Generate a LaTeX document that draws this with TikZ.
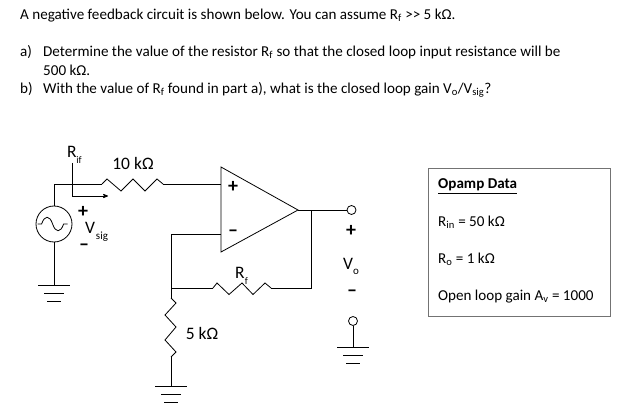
\documentclass[tikz,border=0pt]{standalone}
\usepackage{fontspec}
\setmainfont{Carlito}
\usetikzlibrary{arrows}
\tikzset{
	txt/.style={anchor=base west,inner sep=0pt,font=\fontsize{15.1}{17}\selectfont},
	lbl/.style={inner sep=0pt,font=\fontsize{17.5}{19}\selectfont},
	sign/.style={inner sep=0pt,font=\fontsize{20}{20}\selectfont\bfseries},
	wire/.style={line width=0.8pt},
	term/.style={shape=circle,draw,line width=0.8pt,inner sep=0pt,minimum size=9pt}
}
\begin{document}
\begin{tikzpicture}[x=1pt,y=-1pt,>=stealth']
	\useasboundingbox (0,0) rectangle (635,409);
	% question text
	\node (line1) [txt] at (20,19.5) {A negative feedback circuit is shown below. You can assume R\textsubscript{f} >{}> 5 kΩ.};
	\node (parta) [txt] at (20,56.5) {a)};
	\node (line2) [txt] at (43,56.5) {Determine the value of the resistor R\textsubscript{f} so that the closed loop input resistance will be};
	\node (line3) [txt] at (43,75.5) {500 kΩ.};
	\node (partb) [txt] at (20,93.5) {b)};
	\node (line4) [txt] at (43,93.5) {With the value of R\textsubscript{f} found in part a), what is the closed loop gain V\textsubscript{o}/V\textsubscript{sig}?};

	% opamp data box
	\node (databox) [shape=rectangle,draw=black!55,line width=0.8pt,minimum width=182pt,minimum height=148pt] at (519,242) {};
	\node (datahead) [txt,font=\fontsize{15.1}{17}\selectfont\bfseries] at (438,189) {\underline{Opamp Data}};
	\node (datarin) [txt] at (438,226) {R\textsubscript{in} = 50 kΩ};
	\node (dataro) [txt] at (438,263) {R\textsubscript{o} = 1 kΩ};
	\node (datagain) [txt] at (438,300) {Open loop gain A\textsubscript{v} = 1000};

	% circuit points
	\node (source) [shape=circle,draw,line width=0.8pt,inner sep=0pt,minimum size=36pt] at (54,224) {};
	\coordinate (topleft) at (54,184);
	\coordinate (rinstart) at (102,184);
	\coordinate (rinend) at (163,184);
	\coordinate (plusin) at (221,184);
	\coordinate (minusin) at (221,234);
	\coordinate (minusleft) at (171,234);
	\coordinate (fbnode) at (171,288);
	\coordinate (rfstart) at (213,288);
	\coordinate (rfend) at (271,288);
	\coordinate (fbright) at (311,288);
	\coordinate (outnode) at (311,210);
	\coordinate (rgstart) at (171,298);
	\coordinate (rgend) at (171,357);
	\coordinate (gndsig) at (54,285);
	\coordinate (gndfive) at (171,386);
	\coordinate (gndout) at (353,347);
	\coordinate (probetop) at (72,163);
	\coordinate (probecorner) at (72,196);
	\coordinate (probetip) at (108,196);
	\coordinate (ampa) at (221,167);
	\coordinate (ampb) at (221,252);
	\coordinate (ampc) at (298,210);
	\node (outplus) [term] at (351.5,210) {};
	\node (outminus) [term] at (353,321) {};

	% opamp and wires
	\draw[wire] (ampa) -- (ampb) -- (ampc) -- cycle;
	\draw[wire] (source.north) -- (topleft) -- (rinstart);
	\draw[wire] (rinstart) -- ++(5,-5) -- ++(14,12) -- ++(12,-12) -- ++(12,12) -- ++(12,-12) -- (rinend);
	\draw[wire] (rinend) -- (plusin);
	\draw[wire] (minusin) -- (minusleft) -- (fbnode) -- (rfstart);
	\draw[wire] (rfstart) -- ++(4,-5) -- ++(12,11.5) -- ++(13,-11.5) -- ++(11,11.5) -- ++(12,-11.5) -- (rfend);
	\draw[wire] (rfend) -- (fbright) -- (outnode);
	\draw[wire] (ampc) -- (outplus);
	\draw[wire] (fbnode) -- (rgstart);
	\draw[wire] (rgstart) -- ++(5,5) -- ++(-11,12) -- ++(11,12) -- ++(-11,13) -- ++(11,12) -- (rgend);
	\draw[wire] (rgend) -- (gndfive);
	\draw[wire] (source.south) -- (gndsig);
	\draw[wire] (outminus) -- (gndout);
	\draw[wire] (probetop) -- (probecorner);
	\path[->,wire] (probecorner) edge (probetip);

	% sine in the source
	\draw[wire] (source.west) ++(2,0) -- ++(4,0) .. controls +(3,-9) and +(-3,-9) .. ++(11,0) .. controls +(3,9) and +(-3,9) .. ++(11,0) -- ++(4,0);

	% grounds
	\foreach \g in {gndsig,gndfive,gndout} {
		\draw[wire] (\g) ++(-16,0) -- ++(32,0);
		\draw[wire] (\g) ++(-10,8) -- ++(20,0);
		\draw[wire] (\g) ++(-7,16) -- ++(14,0);
	}

	% labels
	\node (ampplus) [sign] at (233,187) {+};
	\node (ampminus) [sign] at (233,233) {\textendash};
	\node (rinlabel) [lbl] at (133,163) {10 kΩ};
	\node (rfivelabel) [lbl] at (202,333) {5 kΩ};
	\node (rfbase) [lbl,anchor=base west] at (235,278) {R};
	\node (rfsub) [inner sep=0pt,font=\fontsize{10}{11}\selectfont] at (246.5,281) {f};
	\node (rifbase) [lbl,anchor=base west] at (67,158) {R};
	\node (rifsub) [inner sep=0pt,font=\fontsize{10}{11}\selectfont] at (79,160) {if};
	\node (sigplus) [sign] at (83,212) {+};
	\node (sigv) [inner sep=0pt,font=\fontsize{17.5}{19}\selectfont] at (90,228) {V};
	\node (sigsub) [inner sep=0pt,font=\fontsize{11}{12}\selectfont] at (102,237) {sig};
	\node (sigminus) [sign] at (84,247) {\textendash};
	\node (voplus) [sign] at (351,231) {+};
	\node (vov) [inner sep=0pt,font=\fontsize{17.5}{19}\selectfont] at (348,264) {V};
	\node (vosub) [inner sep=0pt,font=\fontsize{11}{12}\selectfont] at (356,272) {o};
	\node (vominus) [sign] at (352,293) {\textendash};
\end{tikzpicture}
\end{document}
